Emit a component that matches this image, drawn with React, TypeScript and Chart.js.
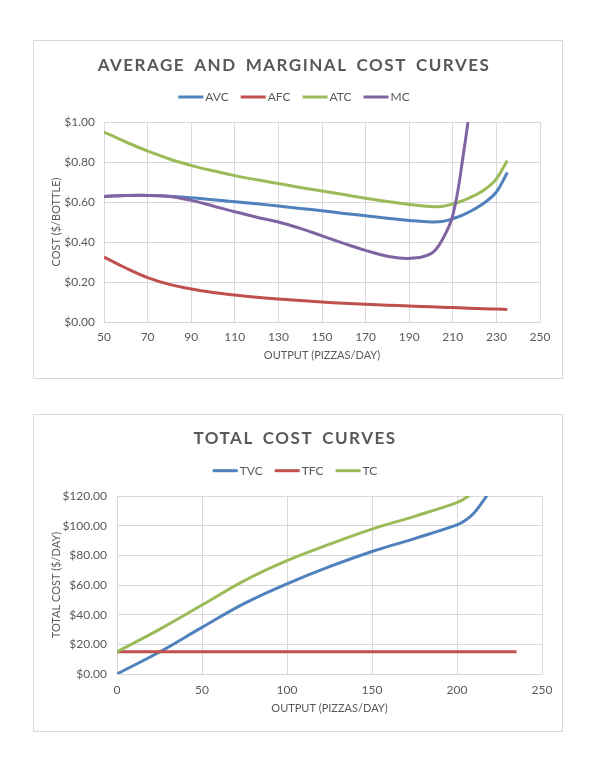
import React, { useEffect, useRef } from 'react';
import { Chart, registerables } from 'chart.js';

Chart.register(...registerables);

// ---- Average & marginal cost data (output in pizzas/day, cost in $/bottle) ----
const AVG_OUTPUT = [50, 60, 70, 80, 90, 100, 110, 120, 130, 140, 150, 160, 170, 180, 190, 200, 205, 210, 215, 220, 225, 230, 235];
const AVC = [0.628, 0.632, 0.633, 0.629, 0.621, 0.611, 0.601, 0.591, 0.58, 0.568, 0.556, 0.543, 0.531, 0.519, 0.508, 0.5, 0.502, 0.516, 0.537, 0.565, 0.6, 0.65, 0.747];
const AFC = [0.325, 0.27, 0.222, 0.188, 0.165, 0.148, 0.135, 0.124, 0.115, 0.107, 0.1, 0.094, 0.089, 0.084, 0.08, 0.076, 0.074, 0.072, 0.07, 0.068, 0.066, 0.065, 0.063];
const ATC = [0.95, 0.9, 0.855, 0.815, 0.783, 0.756, 0.732, 0.711, 0.692, 0.673, 0.655, 0.637, 0.619, 0.602, 0.588, 0.577, 0.578, 0.59, 0.608, 0.633, 0.665, 0.716, 0.808];
const MC_OUTPUT = [50, 60, 70, 80, 90, 100, 110, 120, 130, 140, 150, 160, 170, 180, 190, 200, 205, 210, 215, 220];
const MC = [0.628, 0.632, 0.633, 0.628, 0.608, 0.58, 0.551, 0.524, 0.5, 0.468, 0.431, 0.393, 0.358, 0.329, 0.318, 0.342, 0.408, 0.533, 0.85, 1.25];
const AVG_X_TICKS = [50, 70, 90, 110, 130, 150, 170, 190, 210, 230, 250];
const AVG_Y_TICKS = [0, 0.2, 0.4, 0.6, 0.8, 1.0];

// ---- Total cost data (output in pizzas/day, cost in $/day) ----
const TOTAL_OUTPUT = [0, 25, 50, 75, 100, 125, 150, 175, 200, 205, 210, 215, 220, 225, 230, 235];
const TVC = [0, 14.8, 31.4, 47.6, 60.8, 72.4, 82.6, 91.3, 100.5, 103.6, 108.6, 116, 124.7, 135, 149.5, 175.5];
const TFC = [15, 15, 15, 15, 15, 15, 15, 15, 15, 15, 15, 15, 15, 15, 15, 15];
const TC = [15, 30.1, 46.5, 63, 76.4, 87.5, 97.7, 106.3, 115.5, 118.6, 123.6, 131, 139.7, 150, 164.5, 190.5];
const TOTAL_X_TICKS = [0, 50, 100, 150, 200, 250];
const TOTAL_Y_TICKS = [0, 20, 40, 60, 80, 100, 120];

const BLUE = '#4F81BD';
const RED = '#C0504D';
const GREEN = '#9BBB59';
const PURPLE = '#8064A2';
const TEXT = '#595959';
const GRID = '#D9D9D9';
const FONT = 'Lato';

Chart.defaults.font.family = FONT;

// Draws the letter-spaced heading and a line-sample legend in the space kept free above the plot.
const headerPlugin = {
  id: 'header',
  afterDraw(chart: any, _args: any, opts: any) {
    const { ctx, width } = chart;
    const cx = width / 2 + (opts.shift || 0);
    ctx.save();
    ctx.fillStyle = TEXT;
    ctx.font = `bold ${opts.titleSize}px ${FONT}`;
    ctx.letterSpacing = `${opts.letterSpacing}px`;
    ctx.wordSpacing = `${opts.wordSpacing}px`;
    ctx.textAlign = 'center';
    ctx.textBaseline = 'alphabetic';
    ctx.fillText(opts.text, cx, opts.titleBaseline);
    ctx.letterSpacing = '0px';
    ctx.wordSpacing = '0px';

    ctx.font = `12px ${FONT}`;
    ctx.textAlign = 'left';
    ctx.textBaseline = 'middle';
    const sample = 25;
    const gap = 2;
    const itemGap = 12;
    const items = chart.data.datasets.map((ds: any) => ({
      label: ds.label,
      color: ds.borderColor,
      w: ctx.measureText(ds.label).width,
    }));
    const total =
      items.reduce((s: number, it: any) => s + sample + gap + it.w, 0) + itemGap * (items.length - 1);
    let x = cx - total / 2;
    const y = opts.legendY;
    for (const it of items) {
      ctx.strokeStyle = it.color;
      ctx.lineWidth = 3;
      ctx.beginPath();
      ctx.moveTo(x, y);
      ctx.lineTo(x + sample, y);
      ctx.stroke();
      x += sample + gap;
      ctx.fillStyle = TEXT;
      ctx.fillText(it.label, x, y);
      x += it.w + itemGap;
    }
    ctx.restore();
  },
};

const line = (label: string, xs: number[], ys: number[], color: string, order: number) => ({
  label,
  data: xs.map((x, i) => ({ x, y: ys[i] })),
  borderColor: color,
  backgroundColor: color,
  borderWidth: 3,
  pointRadius: 0,
  fill: false,
  tension: 0.4,
  order,
});

const axisTitle = (text: string, padding: any) => ({
  display: true,
  text,
  color: TEXT,
  font: { family: FONT, size: 11 },
  padding,
});

const money = (v: number) => '$' + Number(v).toFixed(2);

interface PanelProps {
  top: number;
  height: number;
  config: any;
}

function Panel({ top, height, config }: PanelProps) {
  const ref = useRef<HTMLCanvasElement | null>(null);
  useEffect(() => {
    if (!ref.current) return;
    const chart = new Chart(ref.current, config);
    return () => chart.destroy();
  }, [config]);
  return (
    <div
      style={{
        position: 'absolute',
        left: 33,
        top,
        width: 530,
        height,
        border: `1px solid ${GRID}`,
        boxSizing: 'border-box',
        background: '#fff',
      }}
    >
      <canvas ref={ref} width={528} height={height - 2} style={{ display: 'block' }} />
    </div>
  );
}

const averageConfig = {
  type: 'line',
  data: {
    datasets: [
      line('AVC', AVG_OUTPUT, AVC, BLUE, 4),
      line('AFC', AVG_OUTPUT, AFC, RED, 3),
      line('ATC', AVG_OUTPUT, ATC, GREEN, 2),
      line('MC', MC_OUTPUT, MC, PURPLE, 1),
    ],
  },
  plugins: [headerPlugin],
  options: {
    responsive: false,
    animation: false,
    events: [],
    layout: { padding: { top: 81, right: 22, bottom: 16, left: 0 } },
    plugins: {
      legend: { display: false },
      tooltip: { enabled: false },
      header: {
        text: 'AVERAGE AND MARGINAL COST CURVES',
        titleSize: 17,
        letterSpacing: 1.5,
        wordSpacing: 3.5,
        titleBaseline: 29.5,
        legendY: 56,
        shift: -4,
      },
    },
    scales: {
      x: {
        type: 'linear',
        min: 50,
        max: 250,
        afterBuildTicks: (s: any) => {
          s.ticks = AVG_X_TICKS.map((value) => ({ value }));
        },
        afterFit: (s: any) => {
          s.height = 40;
        },
        grid: { color: GRID, drawTicks: false },
        border: { color: GRID },
        ticks: { color: TEXT, font: { family: FONT, size: 12 }, padding: 8, maxRotation: 0 },
        title: axisTitle('OUTPUT (PIZZAS/DAY)', 0),
      },
      y: {
        min: 0,
        max: 1,
        afterBuildTicks: (s: any) => {
          s.ticks = AVG_Y_TICKS.map((value) => ({ value }));
        },
        afterFit: (s: any) => {
          s.width = 70;
        },
        grid: { color: GRID, drawTicks: false },
        border: { color: GRID },
        ticks: { color: TEXT, font: { family: FONT, size: 12 }, padding: 9, callback: money },
        title: axisTitle('COST ($/BOTTLE)', { top: 16, bottom: 0 }),
      },
    },
  },
};

const totalConfig = {
  type: 'line',
  data: {
    datasets: [
      line('TVC', TOTAL_OUTPUT, TVC, BLUE, 3),
      line('TFC', TOTAL_OUTPUT, TFC, RED, 2),
      line('TC', TOTAL_OUTPUT, TC, GREEN, 1),
    ],
  },
  plugins: [headerPlugin],
  options: {
    responsive: false,
    animation: false,
    events: [],
    layout: { padding: { top: 81, right: 20, bottom: 16, left: 0 } },
    plugins: {
      legend: { display: false },
      tooltip: { enabled: false },
      header: {
        text: 'TOTAL COST CURVES',
        titleSize: 17,
        letterSpacing: 1.5,
        wordSpacing: 3.5,
        titleBaseline: 29.3,
        legendY: 55.7,
        shift: -3,
      },
    },
    scales: {
      x: {
        type: 'linear',
        min: 0,
        max: 250,
        afterBuildTicks: (s: any) => {
          s.ticks = TOTAL_X_TICKS.map((value) => ({ value }));
        },
        afterFit: (s: any) => {
          s.height = 41;
        },
        grid: { color: GRID, drawTicks: false },
        border: { color: GRID },
        ticks: { color: TEXT, font: { family: FONT, size: 12 }, padding: 9, maxRotation: 0 },
        title: axisTitle('OUTPUT (PIZZAS/DAY)', 0),
      },
      y: {
        min: 0,
        max: 120,
        afterBuildTicks: (s: any) => {
          s.ticks = TOTAL_Y_TICKS.map((value) => ({ value }));
        },
        afterFit: (s: any) => {
          s.width = 83;
        },
        grid: { color: GRID, drawTicks: false },
        border: { color: GRID },
        ticks: { color: TEXT, font: { family: FONT, size: 12 }, padding: 10, callback: money },
        title: axisTitle('TOTAL COST ($/DAY)', { top: 16, bottom: 0 }),
      },
    },
  },
};

export default function App() {
  return (
    <div>
      <Panel top={40} height={339} config={averageConfig} />
      <Panel top={414} height={318} config={totalConfig} />
    </div>
  );
}
